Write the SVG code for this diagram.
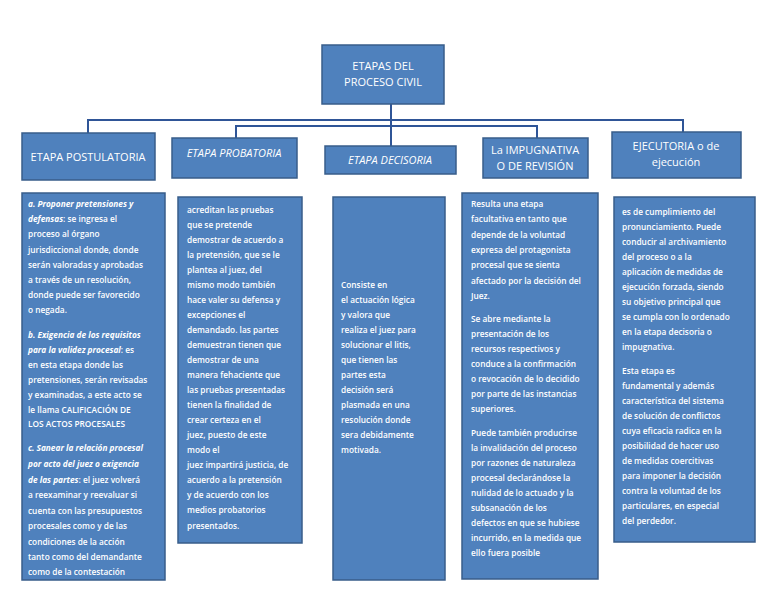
<svg xmlns="http://www.w3.org/2000/svg" width="768" height="594" viewBox="0 0 768 594">
<style>
.b{fill:#4f81bd;stroke:#385d8a;stroke-width:1.5}
.h{font-family:"Open Sans","Liberation Sans",sans-serif;font-size:11px;fill:#fff;text-anchor:middle}
.t{font-family:"Open Sans","Liberation Sans",sans-serif;font-size:8.3px;fill:#fff;font-weight:600}
.c{fill:none;stroke:#2f5597;stroke-width:2}
.bi{font-weight:bold;font-style:italic}
</style>
<rect width="768" height="594" fill="#fff"/>
<g id="connectors">
<path class="c" d="M391 104V146M88 133V120H683V133M236 138V126H537V138"/>
</g>
<g id="root"><rect class="b" x="322" y="45" width="122" height="59"/>
<text class="h" x="383" y="70">ETAPAS DEL</text><text class="h" x="383" y="86">PROCESO CIVIL</text></g>
<g id="postulatoria"><rect class="b" x="22" y="133" width="133" height="47"/><text class="h" x="88" y="161">ETAPA POSTULATORIA</text></g>
<g id="probatoria"><rect class="b" x="172" y="138" width="125" height="40"/><text class="h" x="234" y="157" font-style="italic">ETAPA PROBATORIA</text></g>
<g id="decisoria"><rect class="b" x="325" y="146" width="131" height="28"/><text class="h" x="390" y="164" font-style="italic">ETAPA DECISORIA</text></g>
<g id="impugnativa"><rect class="b" x="483" y="138" width="105" height="40"/><text class="h" x="535" y="154">La IMPUGNATIVA</text><text class="h" x="535" y="170">O DE REVISIÓN</text></g>
<g id="ejecutoria"><rect class="b" x="612" y="132" width="129" height="46"/><text class="h" x="676" y="150">EJECUTORIA o de</text><text class="h" x="676" y="166">ejecución</text></g>
<g id="texto1"><rect class="b" x="22" y="193" width="143" height="387"/>
<text class="t">
<tspan x="28" y="207" class="bi">a. Proponer pretensiones y</tspan>
<tspan x="28" y="222"><tspan class="bi">defensas</tspan>: se ingresa el</tspan>
<tspan x="28" y="237">proceso al órgano</tspan>
<tspan x="28" y="253">jurisdiccional donde, donde</tspan>
<tspan x="28" y="268">serán valoradas y aprobadas</tspan>
<tspan x="28" y="283">a través de un resolución,</tspan>
<tspan x="28" y="298">donde puede ser favorecido</tspan>
<tspan x="28" y="313">o negada.</tspan>
<tspan x="28" y="338" class="bi">b. Exigencia de los requisitos</tspan>
<tspan x="28" y="353"><tspan class="bi">para la validez procesal</tspan>: es</tspan>
<tspan x="28" y="368">en esta etapa donde las</tspan>
<tspan x="28" y="383">pretensiones, serán revisadas</tspan>
<tspan x="28" y="398">y examinadas,  a este acto se</tspan>
<tspan x="28" y="413">le llama CALIFICACIÓN DE</tspan>
<tspan x="28" y="427">LOS ACTOS PROCESALES</tspan>
<tspan x="28" y="451" class="bi">c. Sanear la relación procesal</tspan>
<tspan x="28" y="467" class="bi">por acto del juez o exigencia</tspan>
<tspan x="28" y="483"><tspan class="bi">de las partes</tspan>: el juez volverá</tspan>
<tspan x="28" y="498">a reexaminar y reevaluar si</tspan>
<tspan x="28" y="514">cuenta con las presupuestos</tspan>
<tspan x="28" y="529">procesales como  y de las</tspan>
<tspan x="28" y="545">condiciones de la acción</tspan>
<tspan x="28" y="560">tanto como del demandante</tspan>
<tspan x="28" y="575">como de la contestación</tspan>
</text></g>
<g id="texto2"><rect class="b" x="178" y="197" width="124" height="346"/>
<text class="t">
<tspan x="187" y="213">acreditan las pruebas</tspan>
<tspan x="187" y="228">que se pretende</tspan>
<tspan x="187" y="243">demostrar de acuerdo a</tspan>
<tspan x="187" y="258">la pretensión, que se le</tspan>
<tspan x="187" y="273">plantea al juez, del</tspan>
<tspan x="187" y="288">mismo modo también</tspan>
<tspan x="187" y="303">hace valer su defensa y</tspan>
<tspan x="187" y="318">excepciones el</tspan>
<tspan x="187" y="333">demandado. las partes</tspan>
<tspan x="187" y="348">demuestran  tienen que</tspan>
<tspan x="187" y="363">demostrar de una</tspan>
<tspan x="187" y="378">manera fehaciente que</tspan>
<tspan x="187" y="393">las pruebas presentadas</tspan>
<tspan x="187" y="408">tienen la finalidad de</tspan>
<tspan x="187" y="423">crear certeza en el</tspan>
<tspan x="187" y="438">juez,  puesto de este</tspan>
<tspan x="187" y="453">modo el</tspan>
<tspan x="187" y="468">juez impartirá justicia, de</tspan>
<tspan x="187" y="483">acuerdo a la pretensión</tspan>
<tspan x="187" y="498">y de acuerdo con los</tspan>
<tspan x="187" y="513">medios probatorios</tspan>
<tspan x="187" y="529">presentados.</tspan>
</text></g>
<g id="texto3"><rect class="b" x="333" y="197" width="112" height="383"/>
<text class="t">
<tspan x="341" y="288">Consiste en</tspan>
<tspan x="341" y="303">el actuación lógica</tspan>
<tspan x="341" y="318"> y valora  que</tspan>
<tspan x="341" y="333">realiza el juez para</tspan>
<tspan x="341" y="348">solucionar el litis,</tspan>
<tspan x="341" y="363">que tienen las</tspan>
<tspan x="341" y="378">partes esta</tspan>
<tspan x="341" y="393">decisión será</tspan>
<tspan x="341" y="408">plasmada en una</tspan>
<tspan x="341" y="423">resolución donde</tspan>
<tspan x="341" y="438">sera debidamente</tspan>
<tspan x="341" y="453">motivada.</tspan>
</text></g>
<g id="texto4"><rect class="b" x="462" y="193" width="136" height="386"/>
<text class="t">
<tspan x="471" y="207">Resulta una etapa</tspan>
<tspan x="471" y="222">facultativa en tanto que</tspan>
<tspan x="471" y="238">depende de la voluntad</tspan>
<tspan x="471" y="253">expresa del protagonista</tspan>
<tspan x="471" y="268">procesal que se sienta</tspan>
<tspan x="471" y="284">afectado por la decisión del</tspan>
<tspan x="471" y="299">Juez.</tspan>
<tspan x="471" y="322"> Se abre mediante la</tspan>
<tspan x="471" y="337">presentación de los</tspan>
<tspan x="471" y="352">recursos respectivos y</tspan>
<tspan x="471" y="367">conduce a la confirmación</tspan>
<tspan x="471" y="382">o revocación de lo decidido</tspan>
<tspan x="471" y="397">por parte de las instancias</tspan>
<tspan x="471" y="412">superiores.</tspan>
<tspan x="471" y="436">Puede también producirse</tspan>
<tspan x="471" y="451">la invalidación del proceso</tspan>
<tspan x="471" y="466">por razones de naturaleza</tspan>
<tspan x="471" y="481">procesal declarándose la</tspan>
<tspan x="471" y="496">nulidad de lo actuado y la</tspan>
<tspan x="471" y="511">subsanación de los</tspan>
<tspan x="471" y="526">defectos en que se hubiese</tspan>
<tspan x="471" y="541">incurrido, en la medida que</tspan>
<tspan x="471" y="556">ello fuera posible</tspan>
</text></g>
<g id="texto5"><rect class="b" x="614" y="197" width="141" height="345"/>
<text class="t">
<tspan x="622" y="215">es de cumplimiento del</tspan>
<tspan x="622" y="230">pronunciamiento. Puede</tspan>
<tspan x="622" y="245">conducir al archivamiento</tspan>
<tspan x="622" y="260">del proceso o a la</tspan>
<tspan x="622" y="275">aplicación de medidas de</tspan>
<tspan x="622" y="290">ejecución forzada, siendo</tspan>
<tspan x="622" y="305">su objetivo principal que</tspan>
<tspan x="622" y="320">se cumpla con lo ordenado</tspan>
<tspan x="622" y="335">en la etapa decisoria o</tspan>
<tspan x="622" y="350">impugnativa.</tspan>
<tspan x="622" y="374"> Esta etapa es</tspan>
<tspan x="622" y="389">fundamental y además</tspan>
<tspan x="622" y="404">característica del sistema</tspan>
<tspan x="622" y="419">de solución de conflictos</tspan>
<tspan x="622" y="434">cuya eficacia radica en la</tspan>
<tspan x="622" y="449">posibilidad de hacer uso</tspan>
<tspan x="622" y="464">de medidas coercitivas</tspan>
<tspan x="622" y="479">para imponer la decisión</tspan>
<tspan x="622" y="494">contra la voluntad de los</tspan>
<tspan x="622" y="509">particulares, en especial</tspan>
<tspan x="622" y="524">del perdedor.</tspan>
</text></g>
</svg>
